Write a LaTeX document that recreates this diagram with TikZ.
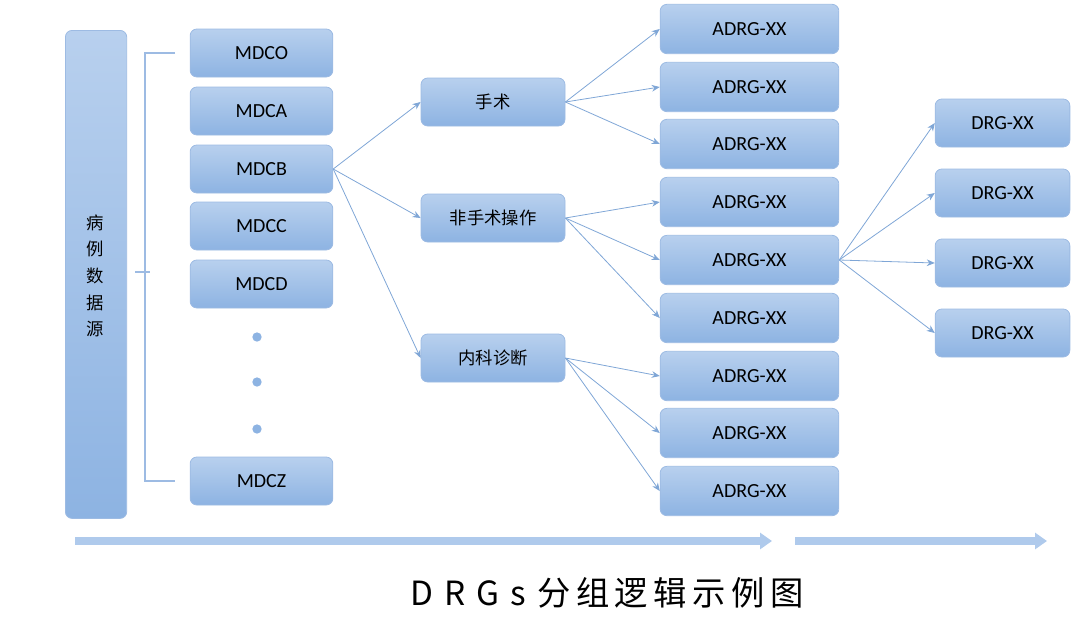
\documentclass[tikz,border=0pt]{standalone}
\usepackage{fontspec}
\setmainfont{Carlito}
\newfontfamily\cjk{Noto Sans CJK SC}
\usetikzlibrary{arrows.meta}
\definecolor{btop}{HTML}{B8D0EE}
\definecolor{bbot}{HTML}{8DB3E2}
\definecolor{bdr}{HTML}{9DBBE3}
\definecolor{lnk}{HTML}{7FA6D6}
\tikzset{
 box/.style={draw=bdr,line width=0.6pt,rounded corners=5pt,top color=btop,bottom color=bbot,font=\fontsize{15}{16}\selectfont,text=black,inner sep=0pt},
 mdc/.style={box,minimum width=107pt,minimum height=36pt},
 mid/.style={box,minimum width=108pt,minimum height=36pt,font=\cjk\fontsize{13}{14}\selectfont},
 adrg/.style={box,minimum width=134pt,minimum height=37pt},
 drg/.style={box,minimum width=101pt,minimum height=36pt},
 lk/.style={draw=lnk,line width=0.6pt,-{Stealth[length=6pt,width=5pt]}},
 big/.style={draw=btop!80!bbot,line width=6pt,-{Triangle[length=9pt,width=12pt]}}
}
\begin{document}
\begin{tikzpicture}[x=0.75pt,y=-0.75pt]
\useasboundingbox (0,0) rectangle (1080,618);
\node[box,minimum width=46pt,minimum height=366pt,anchor=north west] (src) at (65,30) {};
\node[font=\cjk\fontsize{13}{20}\selectfont,align=center] (srct) at (95,276) {病\\例\\数\\据\\源};
\draw[bdr,line width=0.8pt] (175,53) -- (145,53) -- (145,481) -- (175,481);
\coordinate (tk) at (135,272);
\draw[bdr,line width=0.8pt] (tk) -- (150,272);
\node[mdc] (m0) at (261.5,53) {MDCO};
\node[mdc] (ma) at (261.5,111) {MDCA};
\node[mdc] (mb) at (261.5,169) {MDCB};
\node[mdc] (mc) at (261.5,226) {MDCC};
\node[mdc] (md) at (261.5,284) {MDCD};
\node[mdc] (mz) at (261.5,481) {MDCZ};
\foreach \y/\n in {337/d1,382/d2,429/d3} \node[circle,fill=bbot,inner sep=0pt,minimum size=7pt] (\n) at (257,\y) {};
\node[mid] (s1) at (493,102) {手术};
\node[mid] (s2) at (493,218) {非手术操作};
\node[mid] (s3) at (493,358) {内科诊断};
\foreach \i/\y in {1/29,2/87,3/144,4/202,5/260,6/318,7/376,8/433,9/491}
  \node[adrg] (a\i) at (749.5,\y) {ADRG-XX};
\foreach \i/\y in {1/123,2/193,3/263,4/333}
  \node[drg] (g\i) at (1002.5,\y) {DRG-XX};
\foreach \t in {s1,s2,s3} \draw[lk] (mb.east) -- (\t.west);
\foreach \t in {a1,a2,a3} \draw[lk] (s1.east) -- (\t.west);
\foreach \t in {a4,a5,a6} \draw[lk] (s2.east) -- (\t.west);
\foreach \t in {a7,a8,a9} \draw[lk] (s3.east) -- (\t.west);
\foreach \t in {g1,g2,g3,g4} \draw[lk] (a5.east) -- (\t.west);
\coordinate (p1) at (75,541); \coordinate (p2) at (772,541);
\coordinate (p3) at (795,541); \coordinate (p4) at (1047,541);
\draw[big] (p1) -- (p2);
\draw[big] (p3) -- (p4);
\node[font=\cjk\fontsize{25}{28}\selectfont] (title) at (607,593) {D\,\,R\,\,G\,\,s\,\,分\,组\,逻\,辑\,示\,例\,图};
\end{tikzpicture}
\end{document}
